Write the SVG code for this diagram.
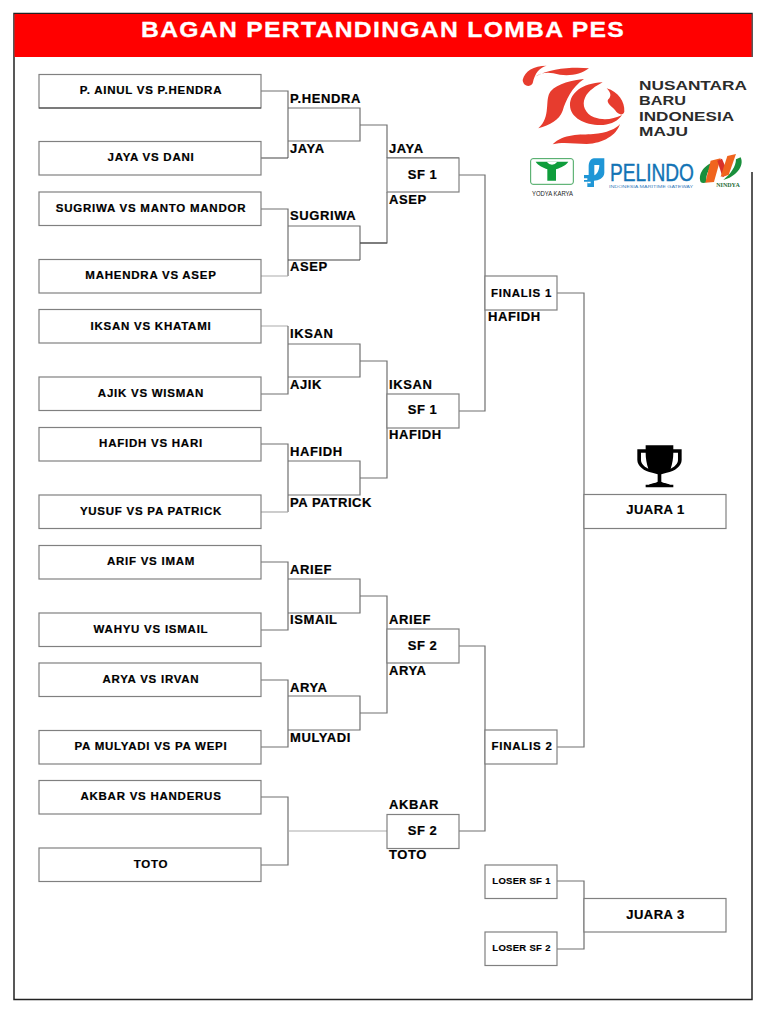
<svg xmlns="http://www.w3.org/2000/svg" width="768" height="1024" viewBox="0 0 768 1024">
<style>
text{font-family:"Liberation Sans",Arial,sans-serif;font-weight:700;fill:#000}
.b{fill:#fff;stroke:#808080;stroke-width:1.2}
.c{fill:none;stroke:#707070;stroke-width:1.2}
.t{fill:none;stroke:#ababab;stroke-width:1.2}
.k{fill:none;stroke:#454545;stroke-width:1.2}
.m{font-size:11.5px;text-anchor:middle;letter-spacing:.75px;stroke:#000;stroke-width:.2px}
.l{font-size:13px;letter-spacing:.6px;stroke:#000;stroke-width:.2px}
.s{font-size:13px;text-anchor:middle;letter-spacing:.5px;stroke:#000;stroke-width:.2px}
.x{font-size:9.5px;text-anchor:middle;letter-spacing:.3px;stroke:#000;stroke-width:.15px}
.r{fill:#e73c2e}
.d{font-size:13px;fill:#2b2b2b}
</style>
<rect width="768" height="1024" fill="#fff"/>
<g id="frame">
<rect x="14" y="13.500" width="738" height="986" fill="#fff" stroke="#222" stroke-width="1.500"/>
<rect x="14.500" y="14" width="737" height="43" fill="#f00"/>
<text x="141" y="37" textLength="484" lengthAdjust="spacingAndGlyphs" style="font-size:22.500px;letter-spacing:1.200px;fill:#fff;stroke:#fff;stroke-width:.3px">BAGAN PERTANDINGAN LOMBA PES</text>
</g>
<g id="logos">
<rect x="492" y="57" width="262" height="115" fill="#fff"/>
<g transform="translate(490 50) scale(.3333)">
<path class="r" d="M98,90C105,62 130,48 170,47C150,53 135,66 128,100C120,113 100,110 98,90Z"/>
<path class="r" d="M135,80C180,55 250,50 297,55C270,75 230,82 190,70C170,65 150,70 135,80Z"/>
<path class="r" d="M145,235C185,200 162,150 182,124C202,100 250,90 282,87C245,112 228,150 218,182C208,210 180,225 145,235Z"/>
<path class="r" d="M338,97C275,100 240,130 240,165C240,205 290,228 340,225C365,222 385,212 396,195C370,208 340,212 312,202C285,190 275,165 285,143C295,122 318,108 338,97Z"/>
<path class="r" d="M350,115C385,125 405,155 403,185C399,198 385,195 375,180C360,165 345,155 358,145C365,135 360,125 350,115Z"/>
<path class="r" d="M188,283C220,250 270,255 310,252C350,250 380,235 390,222C380,255 340,280 290,282C255,282 220,275 188,283Z"/>
</g>
<text class="d" x="639" y="90" textLength="108" lengthAdjust="spacingAndGlyphs">NUSANTARA</text>
<text class="d" x="639" y="104.500" textLength="47" lengthAdjust="spacingAndGlyphs">BARU</text>
<text class="d" x="639" y="121" textLength="95" lengthAdjust="spacingAndGlyphs">INDONESIA</text>
<text class="d" x="639" y="136" textLength="49" lengthAdjust="spacingAndGlyphs">MAJU</text>
<g transform="translate(490 50) scale(.3333)">
<rect x="122" y="326" width="128" height="77" rx="7" fill="#fff" stroke="#3fa45a" stroke-width="3"/>
<path fill="#0f9d3c" d="M137,335H235C225,350 205,355 198,358V392H172V358C160,352 145,348 137,335Z"/>
<path fill="#fff" d="M170,335Q186,354 202,335Z"/>
<path fill="#1f96d6" d="M312,325H343V368C343,384 325,392 312,392V411H292V395H282V375H296V350C296,336 302,325 312,325Z"/>
<path fill="#fff" d="M313,345H328C328,360 322,372 313,376Z"/>
<path fill="#fff" d="M282,385H292V390H282ZM292,395H302V400H292Z"/>
<path fill="#1a8f3c" d="M632,396C622,368 650,338 682,333C660,350 645,372 650,396C644,400 636,400 632,396Z"/>
<path fill="#1a8f3c" d="M752,322C765,350 735,382 700,390C722,372 738,350 738,328Z"/>
<path fill="#f0641e" d="M662,332L692,325L672,396L646,398Z"/>
<path fill="#d8322a" d="M682,332L696,326L716,372L698,382Z"/>
<path fill="#f0641e" d="M712,318L738,312L716,375L692,380Z"/>
</g>
<text x="552.500" y="196" text-anchor="middle" textLength="41" lengthAdjust="spacingAndGlyphs" style="font-size:8px;font-weight:400;fill:#222">YODYA KARYA</text>
<text x="610" y="181" textLength="84" lengthAdjust="spacingAndGlyphs" style="font-size:24px;font-weight:400;fill:#1273b5;stroke:#1273b5;stroke-width:.4px">PELINDO</text>
<text x="609" y="188" textLength="84" lengthAdjust="spacingAndGlyphs" style="font-size:4px;font-weight:400;fill:#3a7ebc">INDONESIA MARITIME GATEWAY</text>
<text x="728" y="187" text-anchor="middle" style="font-size:6px;fill:#1d6b35;font-family:'Liberation Serif',serif">NINDYA</text>
</g>
<g id="connectors">
<path class="c" d="M261,91H288V158M288,108H360V141H288M360,125H387V158M261,209H288V276M288,226H360V260M360,243H387V192"/>
<path class="k" d="M261,158H288M288,260H360M360,243H387M387,158H459"/>
<path class="t" d="M261,276H288M261,326H288"/>
<path class="c" d="M288,326V394H261M288,344H360V377H288M360,361H387V478H360M261,444H288V512M288,461H360V495H288"/>
<path class="t" d="M261,512H288"/>
<path class="c" d="M261,562H288V630H261M288,579H360V613H288M360,596H387V713H360M261,680H288V747H261M288,696H360V730H288"/>
<path class="c" d="M261,797H288V865H261"/>
<path class="t" d="M288,831H387"/>
<path class="c" d="M459,175H485V411H459M459,646H485V831H459M557,293H584V747H557M557,881H584V949H557"/>
</g>
<g id="n1"><rect class="b" x="39" y="74.500" width="222" height="33.500"/><path class="k" d="M39,108H261" stroke-width="1.500"/><text class="m" x="151" y="94">P. AINUL VS P.HENDRA</text></g>
<g id="n2"><rect class="b" x="39" y="141.500" width="222" height="33.500"/><text class="m" x="151" y="161">JAYA VS DANI</text></g>
<g id="n3"><rect class="b" x="39" y="192" width="222" height="33.500"/><text class="m" x="151" y="212">SUGRIWA VS MANTO MANDOR</text></g>
<g id="n4"><rect class="b" x="39" y="259.500" width="222" height="33.500"/><text class="m" x="151" y="279">MAHENDRA VS ASEP</text></g>
<g id="n5"><rect class="b" x="39" y="309.500" width="222" height="33.500"/><text class="m" x="151" y="329.500">IKSAN VS KHATAMI</text></g>
<g id="n6"><rect class="b" x="39" y="377" width="222" height="33.500"/><text class="m" x="151" y="396.500">AJIK VS WISMAN</text></g>
<g id="n7"><rect class="b" x="39" y="427.500" width="222" height="33.500"/><text class="m" x="151" y="447">HAFIDH VS HARI</text></g>
<g id="n8"><rect class="b" x="39" y="495" width="222" height="33.500"/><text class="m" x="151" y="514.500">YUSUF VS PA PATRICK</text></g>
<g id="n9"><rect class="b" x="39" y="545.500" width="222" height="33.500"/><text class="m" x="151" y="565">ARIF VS IMAM</text></g>
<g id="n10"><rect class="b" x="39" y="613" width="222" height="33.500"/><text class="m" x="151" y="632.500">WAHYU VS ISMAIL</text></g>
<g id="n11"><rect class="b" x="39" y="663" width="222" height="33.500"/><text class="m" x="151" y="683">ARYA VS IRVAN</text></g>
<g id="n12"><rect class="b" x="39" y="730.500" width="222" height="33.500"/><text class="m" x="151" y="750">PA MULYADI VS PA WEPI</text></g>
<g id="n13"><rect class="b" x="39" y="780.500" width="222" height="33.500"/><text class="m" x="151" y="800">AKBAR VS HANDERUS</text></g>
<g id="n14"><rect class="b" x="39" y="848" width="222" height="33.500"/><text class="m" x="151" y="867.500">TOTO</text></g>
<g id="labels">
<text class="l" x="290" y="103">P.HENDRA</text><text class="l" x="290" y="153">JAYA</text>
<text class="l" x="290" y="220">SUGRIWA</text><text class="l" x="290" y="271">ASEP</text>
<text class="l" x="290" y="338">IKSAN</text><text class="l" x="290" y="389">AJIK</text>
<text class="l" x="290" y="456">HAFIDH</text><text class="l" x="290" y="507">PA PATRICK</text>
<text class="l" x="290" y="574">ARIEF</text><text class="l" x="290" y="624">ISMAIL</text>
<text class="l" x="290" y="692">ARYA</text><text class="l" x="290" y="742">MULYADI</text>
<text class="l" x="389" y="153">JAYA</text><text class="l" x="389" y="204">ASEP</text>
<text class="l" x="389" y="389">IKSAN</text><text class="l" x="389" y="439">HAFIDH</text>
<text class="l" x="389" y="624">ARIEF</text><text class="l" x="389" y="675">ARYA</text>
<text class="l" x="389" y="809">AKBAR</text><text class="l" x="389" y="859">TOTO</text>
<text class="l" x="488" y="321">HAFIDH</text>
</g>
<g id="sf1a"><rect class="b" x="387" y="158" width="72" height="34"/><text class="s" x="422.500" y="178.500">SF 1</text></g>
<g id="sf1b"><rect class="b" x="387" y="394" width="72" height="34"/><text class="s" x="422.500" y="414">SF 1</text></g>
<g id="sf2a"><rect class="b" x="387" y="629" width="72" height="34"/><text class="s" x="422.500" y="649.500">SF 2</text></g>
<g id="sf2b"><rect class="b" x="387" y="814.500" width="72" height="34"/><text class="s" x="422.500" y="835">SF 2</text></g>
<g id="f1"><rect class="b" x="485" y="276" width="72" height="34"/><text class="m" x="521.500" y="296.500">FINALIS 1</text></g>
<g id="f2"><rect class="b" x="485" y="730" width="72" height="34"/><text class="m" x="522" y="750">FINALIS 2</text></g>
<g id="j1"><rect class="b" x="584" y="494.500" width="142" height="34"/><text class="s" x="655.500" y="514">JUARA 1</text></g>
<g id="j3"><rect class="b" x="584" y="898.500" width="142" height="33.500"/><text class="s" x="655.500" y="918.500">JUARA 3</text></g>
<g id="l1"><rect class="b" x="485" y="865" width="72" height="33.500"/><text class="x" x="521.500" y="884">LOSER SF 1</text></g>
<g id="l2"><rect class="b" x="485" y="932" width="72" height="33.500"/><text class="x" x="521.500" y="951">LOSER SF 2</text></g>
<g id="trophy" transform="translate(470 430) scale(.3333)">
<path d="M527,46H610V58H635V90C635,108 615,124 590,128L574,133V155C580,160 596,160 600,164H610V172H527V164H537C541,160 557,160 563,155V133L547,128C522,124 502,108 502,90V58H527ZM513,68V90C513,100 522,110 535,116C530,102 527,85 527,68ZM624,68H610C610,85 607,102 602,116C615,110 624,100 624,90Z"/>
</g>
</svg>
